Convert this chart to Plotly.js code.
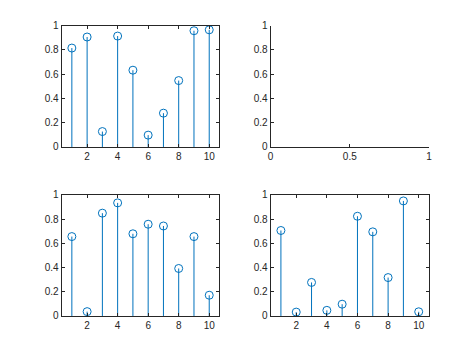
<!DOCTYPE html>
<html>
<head>
<meta charset="utf-8">
<script src="https://cdn.plot.ly/plotly-3.0.1.min.js"></script>
<style>html,body{margin:0;padding:0;background:#fff;}#chart{width:474px;height:355px;}</style>
</head>
<body>
<div id="chart"></div>
<script>
const xIdx = [1, 2, 3, 4, 5, 6, 7, 8, 9, 10];
const series1 = [0.8147, 0.9058, 0.1270, 0.9134, 0.6324, 0.0975, 0.2785, 0.5469, 0.9575, 0.9649];
const series3 = [0.6557, 0.0357, 0.8491, 0.9340, 0.6787, 0.7577, 0.7431, 0.3922, 0.6555, 0.1712];
const series4 = [0.7060, 0.0318, 0.2769, 0.0462, 0.0971, 0.8235, 0.6948, 0.3171, 0.9502, 0.0344];
const yTicks = [0, 0.2, 0.4, 0.6, 0.8, 1];
const yTickText = ['0', '0.2', '0.4', '0.6', '0.8', '1'];
const xTicksStem = [2, 4, 6, 8, 10];
const xTicksEmpty = [0, 0.5, 1];
const xTickTextEmpty = ['0', '0.5', '1'];

const stemColor = '#0072BD';
const axColor = '#262626';

function stemTraces(xs, ys, xa, ya) {
  const lx = [], ly = [];
  xs.forEach((x, i) => { lx.push(x, x, null); ly.push(0, ys[i], null); });
  return [
    {x: lx, y: ly, xaxis: xa, yaxis: ya, type: 'scatter', mode: 'lines',
     line: {color: stemColor, width: 1}, hoverinfo: 'skip', showlegend: false},
    {x: xs, y: ys, xaxis: xa, yaxis: ya, type: 'scatter', mode: 'markers',
     marker: {symbol: 'circle-open', size: 8, color: stemColor, line: {width: 1, color: stemColor}},
     showlegend: false}
  ];
}

const data = [].concat(
  stemTraces(xIdx, series1, 'x', 'y'),
  stemTraces(xIdx, series3, 'x3', 'y3'),
  stemTraces(xIdx, series4, 'x4', 'y4'),
  [{x: [], y: [], xaxis: 'x2', yaxis: 'y2', type: 'scatter', mode: 'markers', showlegend: false}]
);

const font = {family: 'Liberation Sans, Arial, sans-serif', size: 10, color: axColor};
function xa(domain, anchor, box, ticks, text, range) {
  return {domain: domain, anchor: anchor, range: range, tickvals: ticks, ticktext: text,
    showline: true, linecolor: axColor, linewidth: 1, mirror: box ? 'ticks' : false,
    ticks: 'inside', ticklen: 3, tickcolor: axColor, tickwidth: 1,
    showgrid: false, zeroline: false, tickfont: font, fixedrange: true};
}
function ya(domain, anchor, box) {
  return {domain: domain, anchor: anchor, range: [0, 1], tickvals: yTicks, ticktext: yTickText,
    showline: true, linecolor: axColor, linewidth: 1, mirror: box ? 'ticks' : false,
    ticks: 'inside', ticklen: 3, tickcolor: axColor, tickwidth: 1,
    showgrid: false, zeroline: false, tickfont: font, fixedrange: true};
}
const xL = [0.130, 0.463], xR = [0.571, 0.905];
const yT = [0.586, 0.928], yB = [0.110, 0.451];
const stemRange = [0.33, 10.67];
const stemText = xTicksStem.map(String);

const layout = {
  width: 474, height: 355,
  margin: {l: 0, r: 0, t: 0, b: 0},
  paper_bgcolor: '#ffffff', plot_bgcolor: '#ffffff',
  showlegend: false,
  xaxis: xa(xL, 'y', true, xTicksStem, stemText, stemRange),
  yaxis: ya(yT, 'x', true),
  xaxis2: xa(xR, 'y2', false, xTicksEmpty, xTickTextEmpty, [0, 1]),
  yaxis2: ya(yT, 'x2', false),
  xaxis3: xa(xL, 'y3', true, xTicksStem, stemText, stemRange),
  yaxis3: ya(yB, 'x3', true),
  xaxis4: xa(xR, 'y4', true, xTicksStem, stemText, stemRange),
  yaxis4: ya(yB, 'x4', true)
};

Plotly.newPlot('chart', data, layout, {displayModeBar: false, staticPlot: true});
</script>
</body>
</html>
